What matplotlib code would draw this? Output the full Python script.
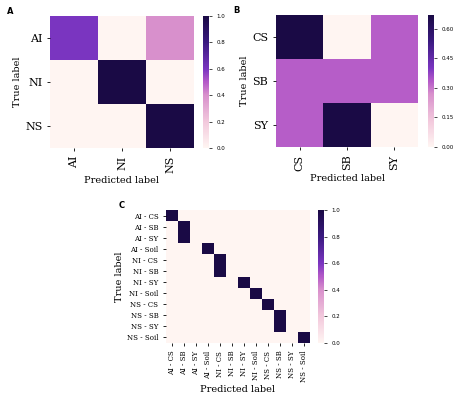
import matplotlib
matplotlib.use("Agg")
import matplotlib.pyplot as plt
from matplotlib.colors import LinearSegmentedColormap
import numpy as np

# panel A
labels_a = ["AI", "NI", "NS"]
cm_a = np.array([[0.6, 0.0, 0.4],
                 [0.0, 1.0, 0.0],
                 [0.0, 0.0, 1.0]])

# panel B
labels_b = ["CS", "SB", "SY"]
cm_b = np.array([[0.67, 0.0, 0.33],
                 [0.33, 0.33, 0.33],
                 [0.33, 0.67, 0.0]])

# panel C
labels_c = ["AI - CS", "AI - SB", "AI - SY", "AI - Soil",
            "NI - CS", "NI - SB", "NI - SY", "NI - Soil",
            "NS - CS", "NS - SB", "NS - SY", "NS - Soil"]
pred_c = [0, 1, 1, 3, 4, 4, 6, 7, 8, 9, 9, 11]
cm_c = np.zeros((12, 12))
for r, c in enumerate(pred_c):
    cm_c[r, c] = 1.0

cmap = LinearSegmentedColormap.from_list("pp", [
    (0.0, "#fff5f2"), (0.2, "#f2c8dc"), (0.4, "#d890cc"),
    (0.5, "#b45ac8"), (0.6, "#7a35c0"), (0.8, "#3a1a80"), (1.0, "#1a0a45")])

fig = plt.figure(figsize=(4.74, 4.01), dpi=100)
W, H = 474, 401


def box(x0, y0, x1, y1):
    return [x0 / W, 1 - y1 / H, (x1 - x0) / W, (y1 - y0) / H]


def heat(ax_box, cb_box, data, xl, yl, vmax, ticks, fmt, tick_fs, letter, rot_y=0):
    ax = fig.add_axes(box(*ax_box))
    n = data.shape[0]
    m = ax.pcolormesh(data, cmap=cmap, vmin=0, vmax=vmax)
    ax.set_xlim(0, n)
    ax.set_ylim(n, 0)
    ax.set_xticks(np.arange(n) + 0.5)
    ax.set_yticks(np.arange(n) + 0.5)
    ax.set_xticklabels(xl, rotation=90, family="DejaVu Serif", fontsize=tick_fs)
    ax.set_yticklabels(yl, rotation=rot_y, family="DejaVu Serif", fontsize=tick_fs)
    for s in ax.spines.values():
        s.set_visible(False)
    ax.tick_params(length=2, width=0.6)
    ax.set_xlabel("Predicted label", family="DejaVu Serif", fontsize=7, labelpad=2)
    ax.set_ylabel("True label", family="DejaVu Serif", fontsize=7, labelpad=2)
    cax = fig.add_axes(box(*cb_box))
    cb = fig.colorbar(m, cax=cax, ticks=ticks)
    cb.ax.set_yticklabels([fmt.format(t) for t in ticks])
    cb.ax.tick_params(labelsize=4, length=2, width=0.5)
    cb.outline.set_visible(False)
    fig.text(ax_box[0] / W - 0.09 if letter != "C" else ax_box[0] / W - 0.1,
             1 - ax_box[1] / H, letter, fontsize=6, fontweight="bold", va="bottom")
    return ax


heat((50, 16, 194, 148), (203, 16, 209, 148), cm_a, labels_a, labels_a,
     1.0, [0, 0.2, 0.4, 0.6, 0.8, 1.0], "{:.1f}", 8, "A")
heat((276, 15, 418, 147), (428, 15, 434, 147), cm_b, labels_b, labels_b,
     0.67, [0, 0.15, 0.30, 0.45, 0.60], "{:.2f}", 8, "B")
heat((166, 210, 310, 343), (318, 210, 324, 343), cm_c, labels_c, labels_c,
     1.0, [0, 0.2, 0.4, 0.6, 0.8, 1.0], "{:.1f}", 5, "C")

fig.savefig("out.png", dpi=100)
